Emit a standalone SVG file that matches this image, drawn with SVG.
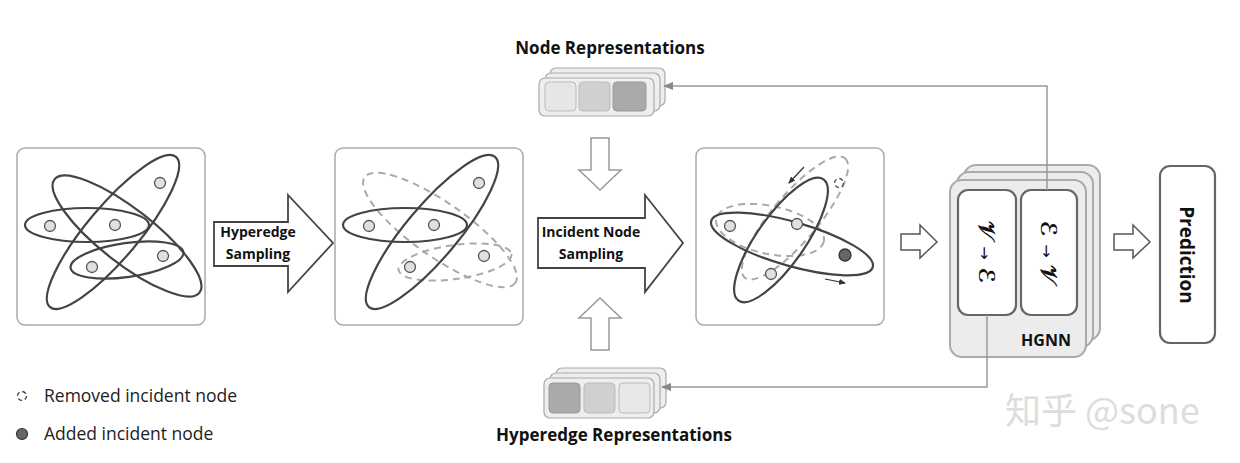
<svg xmlns="http://www.w3.org/2000/svg" width="1240" height="463" viewBox="0 0 1240 463">
<defs>
<style>
.panel{fill:#fff;stroke:#aaa;stroke-width:1.5}
.e{fill:none;stroke:#444;stroke-width:2.2}
.d{fill:none;stroke:#aaa;stroke-width:2;stroke-dasharray:7 5}
.n{fill:#e0e0e0;stroke:#555;stroke-width:1.3}
.big{fill:#fff;stroke:#444;stroke-width:1.8}
.hol{fill:#fff;stroke:#999;stroke-width:1.5}
.hol2{fill:#fff;stroke:#555;stroke-width:1.5}
.t{font-family:"Open Sans","Liberation Sans",sans-serif;font-weight:bold;fill:#111}
.m{font-family:"DejaVu Sans",sans-serif;font-weight:bold;fill:#111;font-size:22px}
.ar{font-weight:normal;font-size:16px}
.ln{fill:none;stroke:#999;stroke-width:1.5}
</style>
<marker id="ah" markerWidth="10" markerHeight="8" refX="9" refY="4" orient="auto" markerUnits="userSpaceOnUse"><path d="M0,0 L10,4 L0,8 Z" fill="#888"/></marker>
<marker id="sa" markerWidth="7" markerHeight="6" refX="6" refY="3" orient="auto" markerUnits="userSpaceOnUse"><path d="M0,0 L7,3 L0,6 Z" fill="#333"/></marker>
</defs>
<rect width="1240" height="463" fill="#fff"/>
<g id="hypergraph">
<rect class="panel" x="17" y="148" width="188" height="177" rx="8"/>
<ellipse class="e" cx="87" cy="225" rx="62" ry="17"/>
<ellipse class="e" cx="127" cy="260" rx="57" ry="17" transform="rotate(-8 127 260)"/>
<ellipse class="e" cx="113" cy="232" rx="98" ry="26" transform="rotate(-50 113 232)"/>
<ellipse class="e" cx="127" cy="236" rx="92" ry="27" transform="rotate(38 127 236)"/>
<circle class="n" cx="160" cy="183" r="5.5"/><circle class="n" cx="50" cy="226" r="5.5"/><circle class="n" cx="115" cy="225" r="5.5"/><circle class="n" cx="163" cy="256" r="5.5"/><circle class="n" cx="92" cy="267" r="5.5"/>
</g>
<g id="sampled">
<rect class="panel" x="335" y="148" width="188" height="177" rx="8"/>
<ellipse class="d" cx="440" cy="230" rx="92" ry="27" transform="rotate(35 440 230)"/>
<ellipse class="d" cx="455" cy="262" rx="57" ry="17" transform="rotate(-8 455 262)"/>
<ellipse class="e" cx="405" cy="225" rx="62" ry="17"/>
<ellipse class="e" cx="432" cy="232" rx="98" ry="26" transform="rotate(-50 432 232)"/>
<circle class="n" cx="479" cy="183" r="5.5"/><circle class="n" cx="369" cy="226" r="5.5"/><circle class="n" cx="434" cy="225" r="5.5"/><circle class="n" cx="484" cy="256" r="5.5"/><circle class="n" cx="410" cy="267" r="5.5"/>
</g>
<g id="incident">
<rect class="panel" x="696" y="148" width="188" height="177" rx="8"/>
<ellipse class="d" cx="770" cy="230" rx="55" ry="24" transform="rotate(12 770 230)"/>
<ellipse class="d" cx="795" cy="218" rx="78" ry="23" transform="rotate(-50 795 218)"/>
<ellipse class="e" cx="792" cy="244" rx="84" ry="22" transform="rotate(16 792 244)"/>
<ellipse class="e" cx="781" cy="240" rx="74" ry="24" transform="rotate(-55 781 240)"/>
<circle class="n" cx="730" cy="226" r="5.5"/><circle class="n" cx="797" cy="224" r="5.5"/><circle class="n" cx="771" cy="274" r="5.5"/>
<circle cx="845" cy="255" r="6" fill="#666" stroke="#333" stroke-width="1.3"/>
<circle cx="839" cy="183" r="4.5" fill="none" stroke="#444" stroke-width="1.3" stroke-dasharray="4 3"/>
<line x1="804" y1="167" x2="789" y2="183" stroke="#333" stroke-width="1.2" marker-end="url(#sa)"/>
<line x1="825" y1="279" x2="845" y2="283" stroke="#333" stroke-width="1.2" marker-end="url(#sa)"/>
</g>
<g id="hyperedge-sampling">
<path class="big" d="M214,222 H288 V195 L333,243 L288,292 V266 H214 Z"/>
<text class="t" x="258" y="237" font-size="14" text-anchor="middle">Hyperedge</text>
<text class="t" x="258" y="259" font-size="14" text-anchor="middle">Sampling</text>
</g>
<g id="incident-sampling">
<path class="big" d="M538,218 H645 V195 L683,243 L645,292 V268 H538 Z"/>
<text class="t" x="591" y="237" font-size="14" text-anchor="middle">Incident Node</text>
<text class="t" x="591" y="259" font-size="14" text-anchor="middle">Sampling</text>
</g>
<g id="node-rep">
<text class="t" x="610" y="54" font-size="17" text-anchor="middle">Node Representations</text>
<rect x="550" y="68" width="115" height="38" rx="6" fill="#eee" stroke="#aaa" stroke-width="1.2"/>
<rect x="545" y="73" width="115" height="38" rx="6" fill="#eee" stroke="#aaa" stroke-width="1.2"/>
<rect x="539" y="78" width="115" height="38" rx="6" fill="#eee" stroke="#aaa" stroke-width="1.2"/>
<rect x="545" y="82" width="31" height="29" rx="4" fill="#e6e6e6" stroke="#bbb"/>
<rect x="579" y="82" width="31" height="29" rx="4" fill="#d0d0d0" stroke="#bbb"/>
<rect x="613" y="82" width="33" height="29" rx="4" fill="#aaa" stroke="#999"/>
</g>
<g id="edge-rep">
<text class="t" x="614" y="441" font-size="17" text-anchor="middle">Hyperedge Representations</text>
<rect x="556" y="368" width="110" height="40" rx="6" fill="#eee" stroke="#aaa" stroke-width="1.2"/>
<rect x="550" y="373" width="110" height="40" rx="6" fill="#eee" stroke="#aaa" stroke-width="1.2"/>
<rect x="544" y="378" width="110" height="40" rx="6" fill="#eee" stroke="#aaa" stroke-width="1.2"/>
<rect x="549" y="383" width="31" height="30" rx="4" fill="#aaa" stroke="#999"/>
<rect x="584" y="383" width="31" height="30" rx="4" fill="#d0d0d0" stroke="#bbb"/>
<rect x="619" y="383" width="31" height="30" rx="4" fill="#e8e8e8" stroke="#bbb"/>
</g>
<g id="hollow-arrows">
<path class="hol" d="M591,138 H609 V170 H621 L600,190 L579,170 H591 Z"/>
<path class="hol" d="M591,350 H609 V318 H621 L600,298 L579,318 H591 Z"/>
<path class="hol2" d="M901,234 H920 V225 L937,242 L920,258 V250 H901 Z"/>
<path class="hol2" d="M1114,234 H1133 V225 L1150,242 L1133,258 V250 H1114 Z"/>
</g>
<g id="hgnn">
<rect x="964" y="165" width="136" height="175" rx="12" fill="#ececec" stroke="#aaa" stroke-width="2"/>
<rect x="957" y="172" width="136" height="175" rx="12" fill="#ececec" stroke="#aaa" stroke-width="2"/>
<rect x="950" y="180" width="136" height="177" rx="12" fill="#ececec" stroke="#aaa" stroke-width="2"/>
<rect x="958" y="190" width="58" height="125" rx="10" fill="#fff" stroke="#666" stroke-width="2.2"/>
<rect x="1021" y="190" width="56" height="125" rx="10" fill="#fff" stroke="#666" stroke-width="2.2"/>
<text class="m" text-anchor="middle" transform="translate(979 252) rotate(90)">𝒱 <tspan class="ar">→</tspan> ℰ</text>
<text class="m" text-anchor="middle" transform="translate(1041 252) rotate(90)">ℰ <tspan class="ar">→</tspan> 𝒱</text>
<text class="t" x="1046" y="346" font-size="16" text-anchor="middle">HGNN</text>
</g>
<g id="prediction">
<rect x="1160" y="166" width="55" height="177" rx="10" fill="#fff" stroke="#666" stroke-width="2.2"/>
<text class="t" font-size="19" text-anchor="middle" transform="translate(1180 255) rotate(90)">Prediction</text>
</g>
<g id="connectors">
<path class="ln" d="M1047,190 V86 H664" marker-end="url(#ah)"/>
<path class="ln" d="M987,315 V387 H662" marker-end="url(#ah)"/>
</g>
<g id="legend">
<circle cx="22" cy="396" r="4.5" fill="none" stroke="#333" stroke-width="1.3" stroke-dasharray="4 3"/>
<text x="44" y="402" font-family="Open Sans, Liberation Sans, sans-serif" font-size="17.5" fill="#222">Removed incident node</text>
<circle cx="22" cy="434" r="5.5" fill="#666" stroke="#333" stroke-width="1.2"/>
<text x="44" y="440" font-family="Open Sans, Liberation Sans, sans-serif" font-size="17.5" fill="#222">Added incident node</text>
</g>
<text x="1005" y="424" font-family="Noto Sans CJK SC, sans-serif" font-size="36" fill="#ddd">知乎 @sone</text>
</svg>
